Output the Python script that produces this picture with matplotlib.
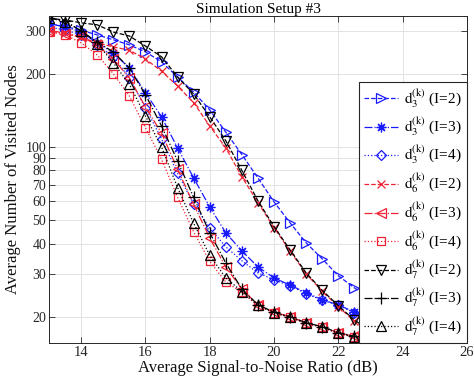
import matplotlib
matplotlib.use("Agg")
import matplotlib.pyplot as plt
from matplotlib.ticker import FixedLocator, NullLocator, FixedFormatter

plt.rcParams['font.family'] = ['Liberation Serif', 'DejaVu Serif']
plt.rcParams['mathtext.fontset'] = 'stix'

snr = [13, 13.5, 14, 14.5, 15, 15.5, 16, 16.5, 17, 17.5, 18, 18.5, 19, 19.5,
       20, 20.5, 21, 21.5, 22, 22.5, 23]

d3_I2 = [320, 313, 302, 289, 276, 263, 246, 224, 194, 168, 142, 115, 93, 74.5, 59.4, 48.7, 40.3, 34.6, 29.5, 26.3, 23.8]
d3_I3 = [322, 312, 297, 268, 244, 211, 167, 133, 99, 74.5, 56.6, 44.3, 37.3, 32.1, 28.9, 27.0, 25.1, 23.5, 22.4, 20.9, 19.8]
d3_I4 = [312, 302, 290, 262, 235, 192, 145, 108, 78, 58.2, 46.4, 38.8, 34, 30.3, 28.4, 26.8, 24.9, 23.4, 22.3, 20.8, 19.7]
d6_I2 = [303, 293, 282, 268, 258, 250, 230, 205, 178, 152, 122, 99, 75.3, 59, 46.5, 37.3, 30, 25.5, 22, 19.2, 17.3]
d6_I3 = [300, 292, 285, 262, 230, 192, 146, 114, 81, 58, 42.2, 32, 26, 22.4, 20.9, 20, 18.9, 18.2, 17.2, 16.6, 15.8]
d6_I4 = [297, 289, 268, 239, 200, 162, 120, 89, 62, 44.7, 33.8, 27.8, 25.2, 22.2, 20.7, 19.9, 18.8, 18.1, 17.1, 16.5, 15.7]
d7_I2 = [338, 333, 324, 318, 297, 286, 260, 235, 194, 165, 133, 106, 80, 60, 47, 37.7, 30.3, 25.7, 22.2, 19.4, 17.5]
d7_I3 = [338, 330, 300, 270, 246, 211, 164, 122, 87.5, 62, 44.3, 33.3, 26, 22.4, 20.9, 20, 18.9, 18.2, 17.2, 16.6, 15.8]
d7_I4 = [340, 328, 300, 266, 222, 181, 134, 100, 68, 48.5, 35.8, 28.9, 25.4, 22.3, 20.8, 19.9, 18.8, 18.1, 17.1, 16.5, 15.7]

labels = [r'$\mathrm{d}_3^{\mathrm{(k)}}$ (I=2)', r'$\mathrm{d}_3^{\mathrm{(k)}}$ (I=3)', r'$\mathrm{d}_3^{\mathrm{(k)}}$ (I=4)',
          r'$\mathrm{d}_6^{\mathrm{(k)}}$ (I=2)', r'$\mathrm{d}_6^{\mathrm{(k)}}$ (I=3)', r'$\mathrm{d}_6^{\mathrm{(k)}}$ (I=4)',
          r'$\mathrm{d}_7^{\mathrm{(k)}}$ (I=2)', r'$\mathrm{d}_7^{\mathrm{(k)}}$ (I=3)', r'$\mathrm{d}_7^{\mathrm{(k)}}$ (I=4)']

xticks = [14, 16, 18, 20, 22, 24, 26]
yticks = [20, 30, 40, 50, 60, 70, 80, 90, 100, 200, 300]

series = [d3_I2, d3_I3, d3_I4, d6_I2, d6_I3, d6_I4, d7_I2, d7_I3, d7_I4]
blue, red, black = '#1a1aff', '#ee2233', '#000000'
colors = [blue] * 3 + [red] * 3 + [black] * 3
styles = ['--', '-.', ':'] * 3
markers = ['>', (8, 2, 0), 'D', 'x', '<', 's', 'v', '+', '^']
msizes = [7, 7, 5, 6, 7, 6, 7, 8, 7]

fig = plt.figure(figsize=(4.74, 3.88), dpi=100)
ax = fig.add_axes([0.1034, 0.116, 0.8816, 0.843])

for ys, c, ls, m, ms, lab in zip(series, colors, styles, markers, msizes, labels):
    ax.plot(snr, ys, linestyle=ls, color=c, marker=m, markersize=ms,
            markerfacecolor='none', markeredgecolor=c, markeredgewidth=0.9,
            linewidth=0.9, label=lab)

ax.set_yscale('log')
ax.set_xlim(13, 26)
ax.set_ylim(15.6, 346)
ax.xaxis.set_major_locator(FixedLocator(xticks))
ax.yaxis.set_major_locator(FixedLocator(yticks))
ax.yaxis.set_major_formatter(FixedFormatter([str(v) for v in yticks]))
ax.yaxis.set_minor_locator(NullLocator())
ax.tick_params(axis='both', which='both', direction='in', top=True, right=True,
               labelsize=10.5, length=4, width=0.6, colors='#262626', pad=2)
ax.tick_params(axis='y', labelsize=10)
ax.grid(True, color='#e3e3e3', linewidth=0.7)
ax.set_axisbelow(True)
for s in ax.spines.values():
    s.set_color('#262626')
    s.set_linewidth(0.7)

ax.set_xlabel('Average Signal-to-Noise Ratio (dB)', fontsize=12, labelpad=1, color='#111111')
ax.set_ylabel('Average Number of Visited Nodes', fontsize=12, labelpad=3, color='#111111')
ax.set_title('Simulation Setup #3', fontsize=11, pad=1.5)

leg = ax.legend(loc='lower right', fontsize=11, frameon=True, fancybox=False,
                edgecolor='#262626', framealpha=1, borderaxespad=0,
                handlelength=2.2, handletextpad=0.4, labelspacing=0.36,
                borderpad=0.35)
leg.get_frame().set_linewidth(0.8)
leg.set_zorder(10)

fig.savefig('out.png', dpi=100)
